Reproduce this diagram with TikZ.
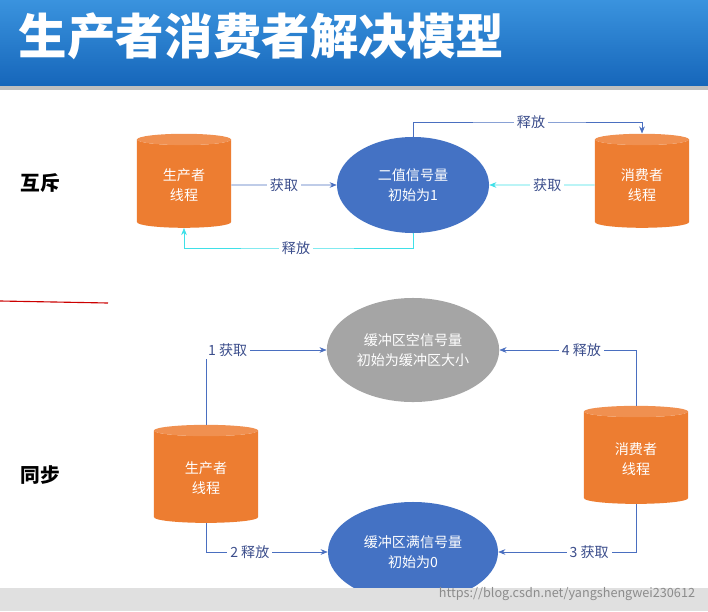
\documentclass[tikz,border=0pt]{standalone}
\usepackage{fontspec}
\setmainfont{Noto Sans CJK SC}
\usetikzlibrary{shapes.geometric,arrows.meta}
\definecolor{barTop}{HTML}{3A93DE}
\definecolor{barBot}{HTML}{1666BA}
\definecolor{cylOrange}{HTML}{ED7D31}
\definecolor{semBlue}{HTML}{4472C4}
\definecolor{semGray}{HTML}{A5A5A5}
\definecolor{lineBlue}{HTML}{4A6FC0}
\definecolor{lineCyan}{HTML}{3FE0E8}
\definecolor{txtBlue}{HTML}{3C4E8C}
\begin{document}
\begin{tikzpicture}[x=0.025cm,y=-0.025cm]

  % node styles
  \tikzset{
    Thread/.style={cylinder,shape border rotate=90,aspect=0.22,draw=none,
      cylinder uses custom fill,cylinder body fill=cylOrange,cylinder end fill=cylOrange!85!white,
      minimum width=2.35cm,minimum height=2.35cm,align=center,text=white,font=\fontsize{10}{14}\selectfont},
    Sem/.style={ellipse,draw=none,align=center,text=white,font=\fontsize{10}{14}\selectfont},
    Lbl/.style={fill=white,inner sep=2pt,text=txtBlue,font=\fontsize{10}{12}\selectfont},
    Side/.style={font=\bfseries\fontsize{14}{16}\selectfont},
    Arr/.style={-{Stealth[length=5pt,width=4pt]},lineBlue,thin}
  }

  \useasboundingbox (0,0) rectangle (708,611);
  \fill[white] (0,0) rectangle (708,611);

  % title bar
  \shade[top color=barTop,bottom color=barBot] (0,0) rectangle (708,86);
  \fill[black!25] (0,86) rectangle (708,90);
  \node[anchor=west,text=white,font=\bfseries\fontsize{34.5}{38}\selectfont] (title) at (14,36) {生产者消费者解决模型};

  % mutual exclusion
  \node[Side] (mutex) at (40,183) {互斥};
  \node[Thread] (P1) at (184,185) {生产者\\线程};
  \node[Sem,fill=semBlue,minimum width=3.8cm,minimum height=2.4cm] (S1) at (413,185) {二值信号量\\初始为1};
  \node[Thread] (C1) at (642,185) {消费者\\线程};

  \draw[Arr] (P1.east) -- node[Lbl] (l1) {获取} (S1.west);
  \draw[Arr,lineCyan] (C1.west) -- node[Lbl,pos=0.45] (l2) {获取} (S1.east);
  \draw[Arr] (S1.north) |- (531,122) node[Lbl] (l3) {释放} -| (C1.north);
  \draw[Arr,lineCyan] (S1.south) |- (296,248) node[Lbl] (l4) {释放} -| (P1.south);

  \draw[red!80!black,thick] (0,301) -- (108,303);

  % synchronisation
  \node[Side] (sync) at (40,475) {同步};
  \node[Sem,fill=semGray,minimum width=4.25cm,minimum height=2.6cm] (S2) at (413,350) {缓冲区空信号量\\初始为缓冲区大小};
  \node[Sem,fill=semBlue,minimum width=4.25cm,minimum height=2.5cm] (S3) at (413,552) {缓冲区满信号量\\初始为0};
  \node[Thread,minimum width=2.6cm,minimum height=2.45cm] (P2) at (206,478) {生产者\\线程};
  \node[Thread,minimum width=2.6cm,minimum height=2.45cm] (C2) at (636,459) {消费者\\线程};

  \draw[Arr] (P2.north) |- node[Lbl,pos=0.59] (l5) {1 获取} (S2.west);
  \draw[Arr] (C2.north) |- node[Lbl,pos=0.7] (l6) {4 释放} (S2.east);
  \draw[Arr] (P2.south) |- node[Lbl,pos=0.68] (l7) {2 释放} (S3.west);
  \draw[Arr] (C2.south) |- node[Lbl,pos=0.67] (l8) {3 获取} (S3.east);

  % screen strip
  \fill[black!12] (0,588) rectangle (708,611);
  \node[anchor=east,text=black!45,font=\fontsize{9}{10}\selectfont] (mark) at (700,594) {https://blog.csdn.net/yangshengwei230612};

\end{tikzpicture}
\end{document}
